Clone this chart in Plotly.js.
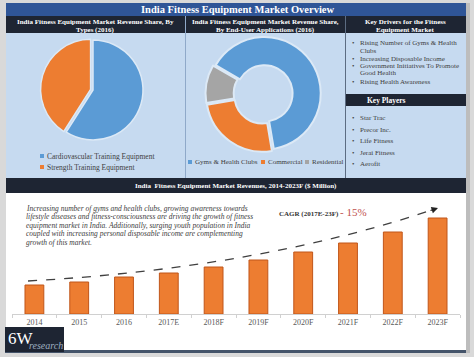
<!DOCTYPE html>
<html>
<head>
<meta charset="utf-8">
<script src="https://cdn.plot.ly/plotly-3.0.1.min.js"></script>
<style>html,body{margin:0;padding:0;background:#d9d9d9;}#chart{width:474px;height:357px;}</style>
</head>
<body>
<div id="chart"></div>
<script>
// ---- data ----
const typeLabels = ['Cardiovascular Training Equipment', 'Strength Training Equipment'];
const typeValues = [59, 41];
const appLabels = ['Gyms & Health Clubs', 'Commercial', 'Residential'];
const appValues = [64, 25, 11];
const years = ['2014', '2015', '2016', '2017E', '2018F', '2019F', '2020F', '2021F', '2022F', '2023F'];
const revenues = [29, 32, 37, 41, 47, 54, 62, 71, 82, 96];
const driverLines = ['Rising Number of Gyms & Health', 'Clubs', 'Increasing Disposable Income', 'Government Initiatives To Promote', 'Good Health', 'Rising Health Awareness'];
const driverBullets = [true, false, true, true, false, true];
const players = ['Star Trac', 'Precor Inc.', 'Life Fitness', 'Jerai Fitness', 'Aerofit'];
const paragraph = [
  'Increasing number of gyms and health clubs, growing awareness towards',
  'lifestyle diseases and fitness-consciousness are driving the growth of fitness',
  'equipment market in India. Additionally, surging youth population in India',
  'coupled with increasing personal disposable income are complementing',
  'growth of this market.'
];
const cagrLabel = 'CAGR (2017E-23F)';
const cagrValue = '15%';

// ---- layout helpers ----
const W = 474, H = 357;
const X = p => p / W;
const Y = p => 1 - p / H;
const SERIF = 'Liberation Serif, Times New Roman, serif';
const DARK = '#1e2533';
const colorsType = ['#5b9bd5', '#ed7d31'];
const colorsApp = ['#5b9bd5', '#ed7d31', '#a5a5a5'];

function rect(x0, y0, x1, y1, fill) {
  return {type: 'rect', xref: 'paper', yref: 'paper', x0: X(x0), x1: X(x1), y0: Y(y1), y1: Y(y0),
    fillcolor: fill, line: {width: 0}, layer: 'below'};
}
function vline(x, y0, y1, color, w) {
  return {type: 'line', xref: 'paper', yref: 'paper', x0: X(x), x1: X(x), y0: Y(y0), y1: Y(y1),
    line: {color: color, width: w}, layer: 'below'};
}
function txt(text, x, y, size, color, opts) {
  return Object.assign({text: text, x: X(x), y: Y(y), xref: 'paper', yref: 'paper', showarrow: false,
    xanchor: 'left', yanchor: 'middle', font: {family: SERIF, size: size, color: color}}, opts || {});
}

const shapes = [
  rect(6, 3, 467, 16, '#2f5597'),
  rect(6, 16, 466, 33, DARK),
  rect(6, 33, 466, 178, '#c6daf0'),
  rect(6, 178, 466, 193, DARK),
  rect(6, 193, 466, 350, '#ffffff'),
  rect(5, 350, 466, 353, '#44546a'),
  rect(466, 3, 470, 353, '#bdbdbd'),
  rect(346, 94, 466, 106, DARK),
  rect(5, 327, 64, 352, DARK),
  vline(185.5, 16, 178, '#8fa9c9', 1),
  vline(345.5, 16, 178, '#5c6c82', 1)
];

const annotations = [];
annotations.push(txt('<b>India Fitness Equipment Market Overview</b>', 237, 9.5, 10.5, '#ffffff', {xanchor: 'center'}));
annotations.push(txt('<b>India Fitness Equipment Market Revenue Share, By</b>', 95, 21.5, 7, '#ffffff', {xanchor: 'center'}));
annotations.push(txt('<b>Types (2016)</b>', 95, 29.5, 7, '#ffffff', {xanchor: 'center'}));
annotations.push(txt('<b>India Fitness Equipment Market Revenue Share,</b>', 265, 21.5, 7, '#ffffff', {xanchor: 'center'}));
annotations.push(txt('<b>By End-User Applications (2016)</b>', 265, 29.5, 7, '#ffffff', {xanchor: 'center'}));
annotations.push(txt('<b>Key Drivers for the Fitness</b>', 405, 21.5, 7, '#ffffff', {xanchor: 'center'}));
annotations.push(txt('<b>Equipment Market</b>', 405, 29.5, 7, '#ffffff', {xanchor: 'center'}));
annotations.push(txt('<b>Key Players</b>', 386, 100, 7.5, '#ffffff', {xanchor: 'center'}));
annotations.push(txt('<b>India  Fitness Equipment Market Revenues, 2014-2023F ($ Million)</b>', 236, 185.5, 7, '#ffffff', {xanchor: 'center'}));

// legends (built from labels/colors)
const typeLegY = [156, 167];
typeLabels.forEach((l, i) => {
  shapes.push({type: 'rect', xref: 'paper', yref: 'paper', x0: X(40), x1: X(44), y0: Y(typeLegY[i] + 2), y1: Y(typeLegY[i] - 2),
    fillcolor: colorsType[i], line: {width: 0}});
  annotations.push(txt(l, 45, typeLegY[i], 7.5, '#404040'));
});
const appLegX = [188, 261, 305];
appLabels.forEach((l, i) => {
  shapes.push({type: 'rect', xref: 'paper', yref: 'paper', x0: X(appLegX[i]), x1: X(appLegX[i] + 4), y0: Y(164), y1: Y(160),
    fillcolor: colorsApp[i], line: {width: 0}});
  annotations.push(txt(l, appLegX[i] + 5, 162, 7, '#404040'));
});

// drivers
const driverY = [43, 51.5, 59, 66, 73.5, 82];
driverLines.forEach((l, i) => {
  if (driverBullets[i]) annotations.push(txt('•', 350, driverY[i], 7, '#404040'));
  annotations.push(txt(l, 358, driverY[i], 7, '#404040'));
});
const playerY = [118, 129.5, 141, 153, 164];
players.forEach((p, i) => {
  annotations.push(txt('•', 350, playerY[i], 7, '#404040'));
  annotations.push(txt(p, 358, playerY[i], 7, '#404040'));
});

// paragraph
const paraY = [208, 216.5, 225, 233.5, 242];
paragraph.forEach((l, i) => annotations.push(txt('<i>' + l + '</i>', 24, paraY[i], 7.5, '#404040')));

// CAGR
annotations.push(txt('<b>' + cagrLabel + '</b> <span style="color:#c0504d;font-size:11px">- ' + cagrValue + '</span>', 277, 212, 7, '#333333'));

// trend arrow
shapes.push({type: 'path', xref: 'paper', yref: 'paper',
  path: 'M ' + X(28) + ',' + Y(281) + ' Q ' + X(260) + ',' + Y(268) + ' ' + X(435) + ',' + Y(209),
  line: {color: '#404040', width: 1.3, dash: 'dash'}});
annotations.push({x: X(438), y: Y(208), xref: 'paper', yref: 'paper', text: '', showarrow: true,
  ax: -9, ay: 3, arrowhead: 2, arrowsize: 1, arrowwidth: 1.3, arrowcolor: '#222222'});

// logo
annotations.push(txt('6W', 6, 338, 17, '#ffffff'));
annotations.push(txt('<i>research</i>', 27, 345, 10, '#9fb0c0'));

const traces = [
  {type: 'pie', labels: typeLabels, values: typeValues, sort: false, direction: 'clockwise', rotation: 0,
    marker: {colors: colorsType, line: {color: '#dce9f6', width: 1.5}}, pull: [0, 0.05],
    textinfo: 'none', hoverinfo: 'skip', showlegend: false,
    domain: {x: [X(40.5), X(145.5)], y: [Y(142.5), Y(37.5)]}},
  {type: 'pie', labels: appLabels, values: appValues, sort: false, direction: 'clockwise', rotation: 300, hole: 0.5,
    marker: {colors: colorsApp, line: {color: '#dce9f6', width: 2}}, pull: [0.02, 0.03, 0.03],
    textinfo: 'none', hoverinfo: 'skip', showlegend: false,
    domain: {x: [X(205.5), X(321.5)], y: [Y(152), Y(36)]}},
  {type: 'bar', x: years, y: revenues, width: 0.42,
    marker: {color: '#ed7d31', line: {color: '#c0561a', width: 1}}, hoverinfo: 'skip', showlegend: false}
];

const layout = {
  width: W, height: H,
  margin: {l: 0, r: 0, t: 0, b: 0},
  paper_bgcolor: '#d9d9d9', plot_bgcolor: 'rgba(0,0,0,0)',
  showlegend: false,
  xaxis: {domain: [X(12), X(460)], type: 'category', showline: true, linecolor: '#d0d0d0', linewidth: 1,
    ticks: 'outside', ticklen: 3, tickcolor: '#d0d0d0', tickson: 'boundaries', showgrid: false, zeroline: false,
    tickfont: {family: SERIF, size: 8, color: '#595959'}, fixedrange: true},
  yaxis: {domain: [Y(314), Y(210)], range: [0, 104], visible: false, fixedrange: true},
  shapes: shapes,
  annotations: annotations
};

Plotly.newPlot('chart', traces, layout, {displayModeBar: false, staticPlot: true});
</script>
</body>
</html>
